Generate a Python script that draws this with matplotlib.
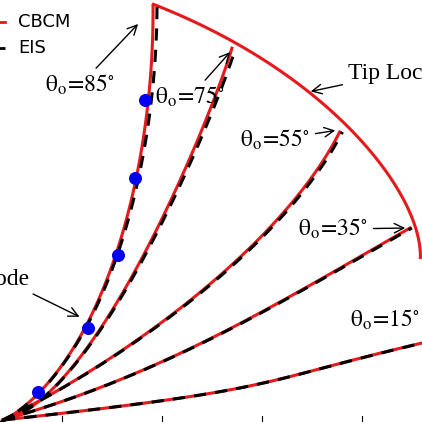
import matplotlib
matplotlib.use("Agg")
import matplotlib.pyplot as plt
import numpy as np
plt.rcParams['mathtext.fontset'] = 'stix'

# curves in pixel-like data units (x right, y up from bottom)
c85_x = [3, 38, 88, 118, 135, 145, 155]
c85_y = [2, 30, 94, 167, 244, 322, 419]
c75_x = [3, 60, 120, 170, 210, 232]
c75_y = [2, 42, 122, 222, 312, 374]
c55_x = [3, 100, 200, 280, 340]
c55_y = [2, 58, 128, 207, 290]
c35_x = [3, 150, 280, 410]
c35_y = [2, 55, 120, 194]
c15_x = [3, 200, 300, 422]
c15_y = [2, 27, 48, 79]
tip_x = [155, 232, 300, 360, 390, 410, 422]
tip_y = [419, 377, 334, 292, 247, 194, 167]
dot_x = [38, 88, 118, 135, 145]
dot_y = [30, 94, 167, 244, 322]

fig = plt.figure(figsize=(4.22, 4.22), dpi=100)
ax = fig.add_axes([0, 0, 1, 1])
ax.set_xlim(0, 422); ax.set_ylim(0, 422)
ax.axis('off')

def smooth(x, y, n=100):
    x = np.array(x, float); y = np.array(y, float)
    t = np.linspace(0, 1, len(x)); tt = np.linspace(0, 1, n)
    deg = min(3, len(x) - 1)
    px = np.polyfit(t, x, deg); py = np.polyfit(t, y, deg)
    return np.polyval(px, tt), np.polyval(py, tt)

for cx, cy in [(c85_x, c85_y), (c75_x, c75_y), (c55_x, c55_y), (c35_x, c35_y), (c15_x, c15_y)]:
    sx, sy = smooth(cx, cy)
    ax.plot(sx, sy, color='#e41a1c', lw=2.2, zorder=2)
    off = 4 * sy / 420
    ax.plot(sx + off, sy, color='black', lw=2.2, ls=(0, (4, 3)), zorder=3)
tx, ty = smooth(tip_x, tip_y)
ax.plot(tx, ty, color='#e41a1c', lw=2.2, zorder=2)
ax.scatter(dot_x, dot_y, s=70, color='#0000ee', zorder=4)

for xt in [62, 162, 262, 362]:
    ax.plot([xt, xt], [0, 6], color='black', lw=0.8)

ap = dict(arrowstyle='->', color='black', lw=1)
fs = 17
def lab(t, xy, xyt):
    ax.annotate(r'$\mathrm{\theta_o\!=\!%s^{\circ}}$' % t, xy=xy, xytext=xyt, fontsize=fs,
                arrowprops=ap, annotation_clip=False)
lab('85', (140, 400), (45, 330))
lab('75', (232, 372), (155, 318))
lab('55', (338, 292), (240, 275))
lab('35', (408, 194), (298, 186))
lab('15', (445, 100), (350, 95))
ax.annotate('Tip Locus', xy=(308, 330), xytext=(348, 343), fontsize=17, family='Liberation Serif', arrowprops=ap)
ax.annotate('Node', xy=(82, 104), xytext=(-22, 137), fontsize=17, family='Liberation Serif', arrowprops=ap)

ax.plot([-10, 5], [400, 400], color='#e41a1c', lw=2)
ax.text(18, 400, 'CBCM', fontsize=13, va='center')
ax.plot([-10, 5], [374, 374], color='black', lw=2, ls=(0, (4, 3)))
ax.text(18, 374, 'EIS', fontsize=13, va='center')

fig.savefig('out.png', dpi=100)
